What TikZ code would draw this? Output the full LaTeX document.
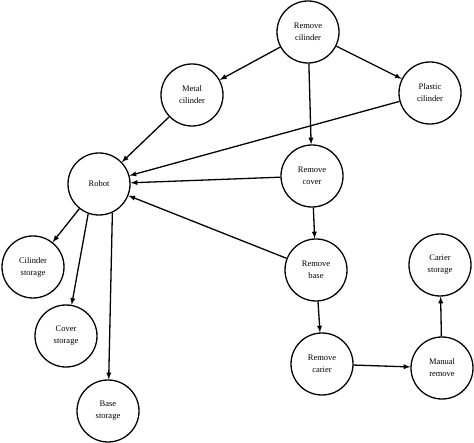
\documentclass[tikz,border=0pt]{standalone}
\usepackage{fontspec}
\setmainfont{Liberation Serif}
\usepackage{tikz}
\usetikzlibrary{shapes, arrows}
\usetikzlibrary{positioning}
\tikzstyle{state} = [
  circle, minimum size = 62, inner sep = 0,
  draw = black, line width = 1.3, align = center,
  font = \fontsize{8.5}{12}\selectfont
]
\tikzstyle{flow} = [-latex, line width = 1.3]

\begin{document}
\begin{tikzpicture}[x = 1pt, y = -1pt]
      \useasboundingbox (0, 0) rectangle (474, 443);
      \node [state] (rm-cilinder) at (308, 32) {Remove\\cilinder};
      \node [state] (metal) at (192, 95) {Metal\\cilinder};
      \node [state] (plastic) at (430, 93) {Plastic\\cilinder};
      \node [state] (robot) at (99, 184) {Robot};
      \node [state] (rm-cover) at (312, 176) {Remove\\cover};
      \node [state] (rm-base) at (316, 270) {Remove\\base};
      \node [state] (cil-storage) at (33, 267) {Cilinder\\storage};
      \node [state] (cov-storage) at (66, 336) {Cover\\storage};
      \node [state] (base-storage) at (108, 411) {Base\\storage};
      \node [state] (rm-carier) at (322, 364) {Remove\\carier};
      \node [state] (manual) at (442, 368) {Manual\\remove};
      \node [state] (car-storage) at (440, 265) {Carier\\storage};

      \draw [flow] (rm-cilinder) -- (metal);
      \draw [flow] (rm-cilinder) -- (plastic);
      \draw [flow] (rm-cilinder) -- (rm-cover);
      \draw [flow] (metal) -- (robot);
      \draw [flow] (plastic) -- (robot);
      \draw [flow] (rm-cover) -- (robot);
      \draw [flow] (rm-base) -- (robot);
      \draw [flow] (rm-cover) -- (rm-base);
      \draw [flow] (robot) -- (cil-storage);
      \draw [flow] (robot.-110) -- (cov-storage);
      \draw [flow] (robot.-65) -- (base-storage);
      \draw [flow] (rm-base) -- (rm-carier);
      \draw [flow] (rm-carier) -- (manual);
      \draw [flow] (manual) -- (car-storage);
    \end{tikzpicture}
\end{document}
